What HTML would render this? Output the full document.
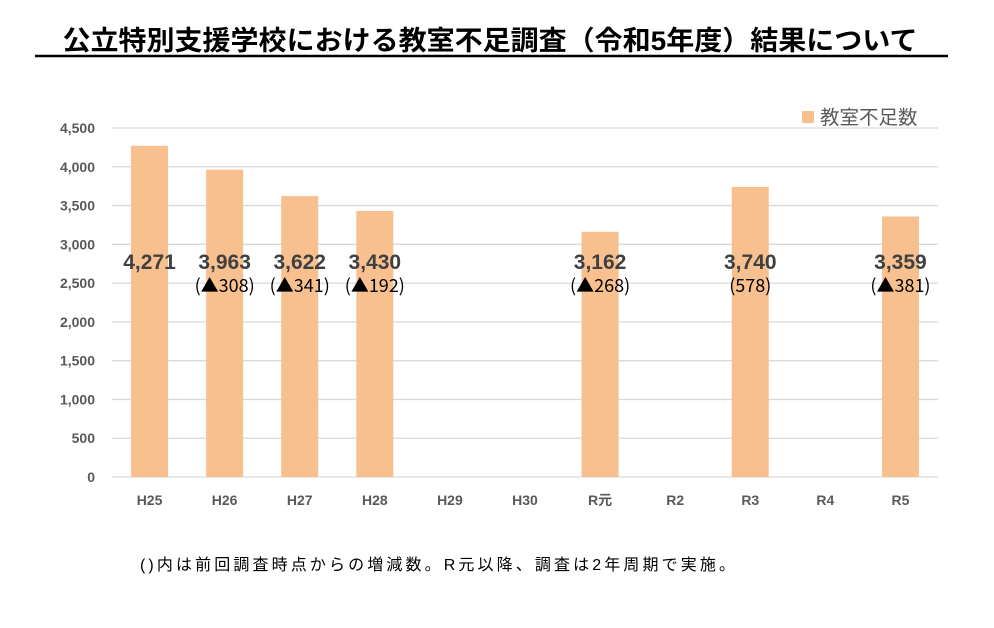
<!DOCTYPE html>
<html><head><meta charset="utf-8">
<style>
body{margin:0;background:#fff;width:994px;height:623px;overflow:hidden;font-family:"Liberation Sans","Noto Sans CJK JP",sans-serif;}
</style></head>
<body>
<svg width="994" height="623" xmlns="http://www.w3.org/2000/svg">
<text x="490" y="50" text-anchor="middle" font-size="27" font-weight="bold" fill="#000" textLength="855" lengthAdjust="spacingAndGlyphs" font-family="Liberation Sans, Noto Sans CJK JP, sans-serif">公立特別支援学校における教室不足調査（令和5年度）結果について</text>
<line x1="35" y1="56" x2="948" y2="56" stroke="#000" stroke-width="2.5"/>
<g id="grid"></g>
<g id="bars"></g>
<g id="labels"></g>
<rect x="802" y="111" width="12" height="12" fill="#F8C08E"/>
<text x="820" y="124" font-size="19.5" fill="#595959" font-family="Liberation Sans, Noto Sans CJK JP, sans-serif">教室不足数</text>
<text x="140" y="570" font-size="16" fill="#000" textLength="595" lengthAdjust="spacing" font-family="Liberation Sans, Noto Sans CJK JP, sans-serif">()内は前回調査時点からの増減数。R元以降、調査は2年周期で実施。</text>
</svg>
<script>
const categories=["H25","H26","H27","H28","H29","H30","R元","R2","R3","R4","R5"];
const values=[4271,3963,3622,3430,null,null,3162,null,3740,null,3359];
const deltas=["","(▲308)","(▲341)","(▲192)","","","(▲268)","","(578)","","(▲381)"];
const ticks=[0,500,1000,1500,2000,2500,3000,3500,4000,4500];
const NS="http://www.w3.org/2000/svg";
const x0=112,x1=938,y0=477,yTop=128,maxV=4500;
const band=(x1-x0)/categories.length;
const yS=v=>y0-(v/maxV)*(y0-yTop);
const xC=i=>x0+band*(i+0.5);
function mk(tag,attrs,parent){const e=document.createElementNS(NS,tag);for(const k in attrs)e.setAttribute(k,attrs[k]);parent.appendChild(e);return e;}
const grid=document.getElementById('grid'),bars=document.getElementById('bars'),labels=document.getElementById('labels');
ticks.forEach(t=>{
 const l=mk('line',{x1:x0,x2:x1,y1:yS(t),y2:yS(t),stroke:'#D9D9D9','stroke-width':1.3},grid);
 
 
 const tx=mk('text',{x:95,y:yS(t)+5,'text-anchor':'end','font-size':14,'font-weight':'bold',fill:'#595959'},grid);
 tx.textContent=t.toLocaleString('en-US');
 
 
});
categories.forEach((c,i)=>{
 const tx=mk('text',{x:xC(i),y:505,'text-anchor':'middle','font-size':14,'font-weight':'bold',fill:'#595959'},grid);
 tx.textContent=c;
 
 
 const v=values[i];
 if(v==null)return;
 const r=mk('rect',{x:xC(i)-18.5,y:yS(v),width:37,height:y0-yS(v),fill:'#F8C08E'},bars);
 
 
 const vl=mk('text',{x:xC(i),y:269,'text-anchor':'middle','font-size':21,'font-weight':'bold',fill:'#404040'},labels);
 vl.textContent=v.toLocaleString('en-US');
 
 
 if(deltas[i]){
  const dl=mk('text',{x:xC(i),y:292,'text-anchor':'middle','font-size':18,fill:'#000','font-family':'Noto Sans CJK JP, Liberation Sans, sans-serif'},labels);
  dl.textContent=deltas[i];
  
  
 }
});
</script>
</body></html>
